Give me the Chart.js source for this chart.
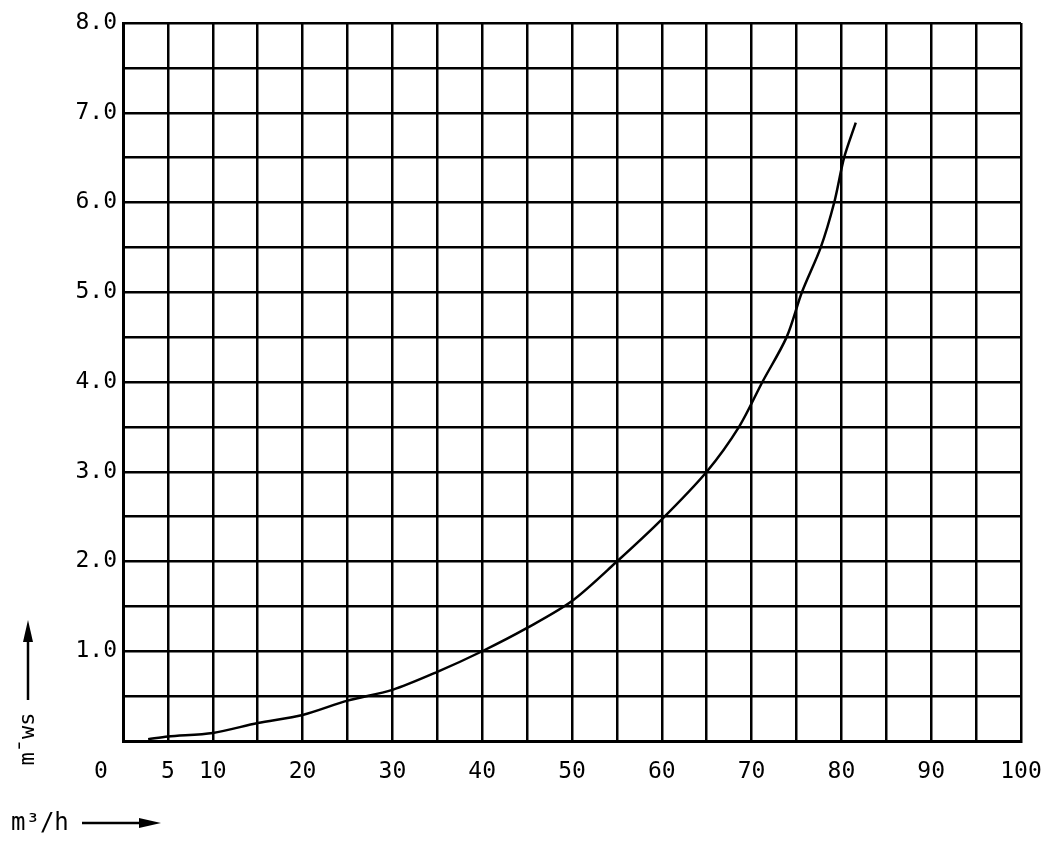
<!DOCTYPE html>
<html>
<head>
<meta charset="utf-8">
<script src="https://cdn.jsdelivr.net/npm/chart.js@4/dist/chart.umd.min.js"></script>
<style>
  html, body { margin: 0; padding: 0; background: #ffffff; }
  #wrap { width: 1054px; height: 846px; }
</style>
</head>
<body>
<div id="wrap"><canvas id="c" width="1054" height="846"></canvas></div>
<script>
// ---- data ----
const flowValues = [2.8, 5, 10, 15, 20, 25, 30, 35, 40, 45, 50, 55, 60, 65, 68.6, 71.2, 73.9, 75.6, 77.7, 79.2, 80.3, 81.6];
const headValues = [0.02, 0.05, 0.09, 0.2, 0.29, 0.45, 0.57, 0.77, 1.0, 1.26, 1.56, 2.0, 2.47, 3.0, 3.5, 4.0, 4.5, 5.0, 5.5, 6.0, 6.5, 6.89];
const xTickValues = [0, 5, 10, 20, 30, 40, 50, 60, 70, 80, 90, 100];
const xTickLabels = ['0', '5', '10', '20', '30', '40', '50', '60', '70', '80', '90', '100'];
const yTickValues = [1, 2, 3, 4, 5, 6, 7, 8];
const yTickLabels = ['1.0', '2.0', '3.0', '4.0', '5.0', '6.0', '7.0', '8.0'];
const xTitle = 'm³/h';
const yTitle = 'm¯ws';

const FONT = '"DejaVu Sans Mono", "Liberation Mono", monospace';

const points = flowValues.map((x, i) => ({ x: x, y: headValues[i] }));

const decorPlugin = {
  id: 'decor',
  afterDraw(chart) {
    const ctx = chart.ctx;
    const xs = chart.scales.x;
    ctx.save();
    ctx.fillStyle = '#000';
    ctx.strokeStyle = '#000';
    ctx.font = '23px ' + FONT;
    ctx.textAlign = 'center';
    ctx.textBaseline = 'middle';
    // x tick labels
    xTickValues.forEach((v, i) => {
      let px = xs.getPixelForValue(v);
      if (v === 0) px -= 22;
      ctx.fillText(xTickLabels[i], px, 772);
    });
    // x title with arrow
    ctx.textAlign = 'left';
    ctx.font = '24px ' + FONT;
    ctx.fillText(xTitle, 11, 824);
    ctx.lineWidth = 2.5;
    ctx.beginPath();
    ctx.moveTo(82, 823);
    ctx.lineTo(150, 823);
    ctx.stroke();
    ctx.beginPath();
    ctx.moveTo(161, 823);
    ctx.lineTo(139, 818);
    ctx.lineTo(139, 828);
    ctx.closePath();
    ctx.fill();
    // y title rotated with arrow
    ctx.save();
    ctx.translate(28, 739);
    ctx.rotate(-Math.PI / 2);
    ctx.textAlign = 'center';
    ctx.textBaseline = 'middle';
    ctx.font = '22px ' + FONT;
    ctx.fillText(yTitle, 0, 0);
    ctx.restore();
    ctx.beginPath();
    ctx.moveTo(28, 700);
    ctx.lineTo(28, 632);
    ctx.stroke();
    ctx.beginPath();
    ctx.moveTo(28, 620);
    ctx.lineTo(23, 642);
    ctx.lineTo(33, 642);
    ctx.closePath();
    ctx.fill();
    ctx.restore();
  }
};

new Chart(document.getElementById('c'), {
  type: 'scatter',
  data: {
    datasets: [{
      data: points,
      showLine: true,
      borderColor: '#000',
      borderWidth: 2.5,
      pointRadius: 0,
      tension: 0.3,
      fill: false
    }]
  },
  options: {
    responsive: false,
    animation: false,
    devicePixelRatio: 1,
    layout: { padding: { left: 0, top: 23, right: 33, bottom: 0 } },
    plugins: { legend: { display: false }, tooltip: { enabled: false } },
    scales: {
      x: {
        type: 'linear',
        min: 0,
        max: 100,
        ticks: { stepSize: 5, display: false },
        grid: { color: '#000', lineWidth: 2.5, drawTicks: false },
        border: { display: true, color: '#000', width: 3 },
        afterFit(scale) { scale.height = 105; }
      },
      y: {
        type: 'linear',
        min: 0,
        max: 8,
        ticks: {
          stepSize: 0.5,
          padding: 6,
          color: '#000',
          font: { family: FONT, size: 23 },
          callback(value) {
            const idx = yTickValues.indexOf(value);
            return idx >= 0 ? yTickLabels[idx] : '';
          }
        },
        grid: { color: '#000', lineWidth: 2.5, drawTicks: false },
        border: { display: true, color: '#000', width: 3 },
        afterFit(scale) { scale.width = 123; }
      }
    }
  },
  plugins: [decorPlugin]
});
</script>
</body>
</html>
